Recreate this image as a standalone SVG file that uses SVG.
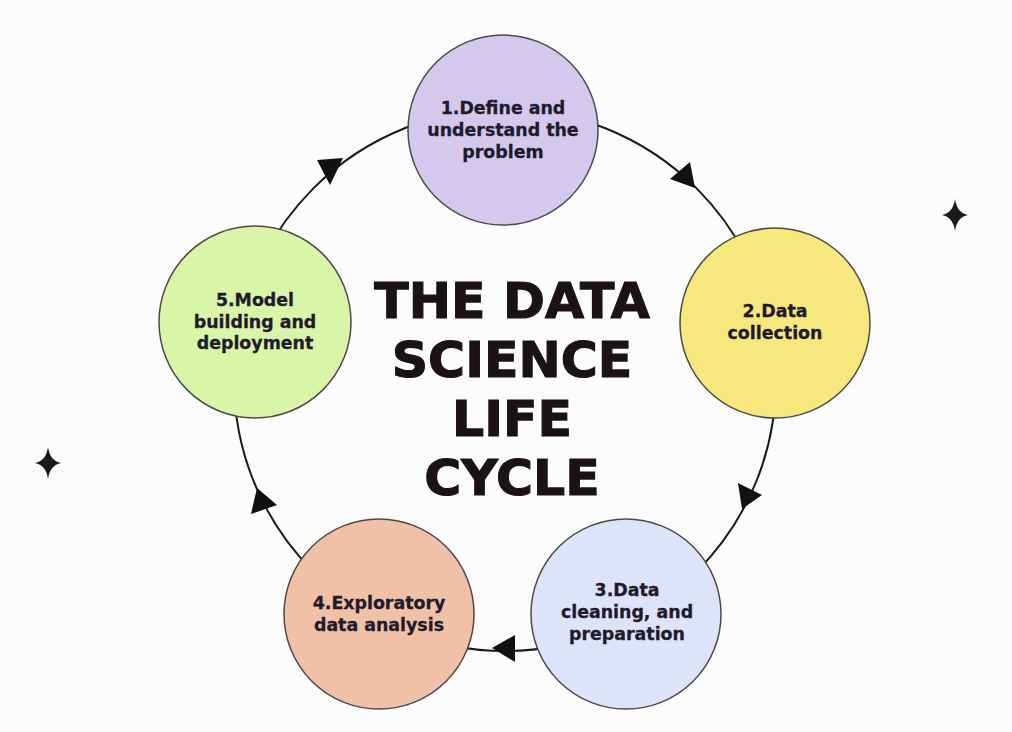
<svg xmlns="http://www.w3.org/2000/svg" width="1012" height="732" viewBox="0 0 1012 732">
  <defs>
    <style>
      .node { stroke: #4a4a4a; stroke-width: 1.5; }
      .label { font-family: "DejaVu Sans", "Liberation Sans", sans-serif; font-weight: bold; font-size: 17.4px; fill: #1f1b2d; text-anchor: middle; stroke: #1f1b2d; stroke-width: 0.3; }
      .title { font-family: "DejaVu Sans", "Liberation Sans", sans-serif; font-weight: bold; font-size: 50.5px; fill: #1a1214; text-anchor: middle; stroke: #1a1214; stroke-width: 1.2; }
      .arrow { fill: #111; }
      .ring { fill: none; stroke: #1a1a1a; stroke-width: 2; }
      .star { fill: #1a1a1a; }
    </style>
    <path id="star" d="M0,-16 Q2,-2 13,0 Q2,2 0,16 Q-2,2 -13,0 Q-2,-2 0,-16 Z"/>
  </defs>
  <rect width="1012" height="732" fill="#fcfcfc"/>

  <g id="connectors">
    <circle class="ring" cx="505" cy="380" r="271"/>
    <polygon class="arrow" points="690,162 670,179 695,188"/>
    <polygon class="arrow" points="738,483 762,495 742,509"/>
    <polygon class="arrow" points="515,635 515,662 492,648"/>
    <polygon class="arrow" points="257,488 277,505 251,514"/>
    <polygon class="arrow" points="317,160 343,158 330,185"/>
  </g>

  <g id="node1">
    <circle class="node" cx="503" cy="130" r="95" fill="#d4c9ec"/>
    <text class="label" x="503" y="114">1.Define and</text>
    <text class="label" x="503" y="136">understand the</text>
    <text class="label" x="503" y="158">problem</text>
  </g>
  <g id="node2">
    <circle class="node" cx="775" cy="323" r="95" fill="#f6e87c"/>
    <text class="label" x="775" y="317">2.Data</text>
    <text class="label" x="775" y="339">collection</text>
  </g>
  <g id="node3">
    <circle class="node" cx="626" cy="614" r="95" fill="#dde3f8"/>
    <text class="label" x="627" y="596">3.Data</text>
    <text class="label" x="627" y="618">cleaning, and</text>
    <text class="label" x="627" y="640">preparation</text>
  </g>
  <g id="node4">
    <circle class="node" cx="379" cy="614" r="95" fill="#f0c1a7"/>
    <text class="label" x="379" y="609">4.Exploratory</text>
    <text class="label" x="379" y="631">data analysis</text>
  </g>
  <g id="node5">
    <circle class="node" cx="255" cy="322" r="96" fill="#d9f5a7"/>
    <text class="label" x="255" y="306">5.Model</text>
    <text class="label" x="255" y="328">building and</text>
    <text class="label" x="255" y="349">deployment</text>
  </g>

  <g id="title">
    <text class="title" x="512" y="318">THE DATA</text>
    <text class="title" x="512" y="377">SCIENCE</text>
    <text class="title" x="512" y="436">LIFE</text>
    <text class="title" x="512" y="495">CYCLE</text>
  </g>

  <g id="stars">
    <use href="#star" class="star" x="955" y="215"/>
    <use href="#star" class="star" x="48" y="463"/>
  </g>
</svg>
